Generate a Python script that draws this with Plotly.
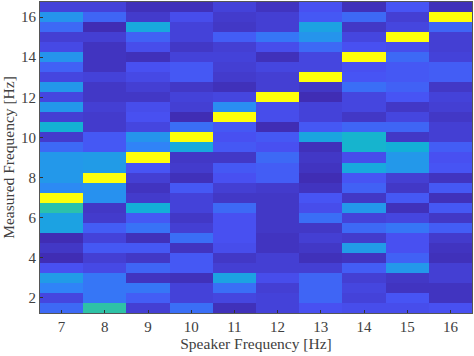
import plotly.graph_objects as go

speaker_hz = [7, 8, 9, 10, 11, 12, 13, 14, 15, 16]
measured_hz = [16.5, 16, 15.5, 15, 14.5, 14, 13.5, 13, 12.5, 12, 11.5, 11, 10.5, 10, 9.5, 9,
               8.5, 8, 7.5, 7, 6.5, 6, 5.5, 5, 4.5, 4, 3.5, 3, 2.5, 2, 1.5]
col_7 = [.08,.29,.18,.07,.10,.29,.16,.09,.30,.09,.30,.07,.38,.06,.18,.30,.30,.30,.26,1,.46,.33,.33,.02,.05,.02,.12,.31,.24,.09,.18]
col_8 = [.08,.17,.02,.07,.04,.04,.04,.08,.05,.05,.07,.06,.06,.14,.14,.31,.31,1,.28,.28,.05,.06,.15,.08,.14,.07,.10,.21,.21,.21,.47]
col_9 = [.03,.06,.35,.16,.11,.03,.12,.10,.07,.05,.11,.12,.09,.29,.24,1,.13,.07,.04,.06,.37,.14,.20,.03,.14,.05,.17,.04,.21,.15,.07]
col_10 = [.03,.11,.08,.08,.05,.08,.14,.14,.05,.08,.07,.02,.19,1,.35,.05,.06,.03,.14,.08,.08,.05,.07,.19,.04,.14,.14,.03,.08,.08,.19]
col_11 = [.08,.06,.05,.15,.07,.08,.07,.06,.03,.09,.27,1,.14,.12,.14,.05,.14,.12,.07,.05,.18,.12,.12,.12,.11,.05,.07,.33,.19,.09,.03]
col_12 = [.04,.07,.07,.21,.11,.03,.09,.07,.07,1,.11,.11,.02,.14,.12,.18,.15,.15,.06,.05,.05,.05,.05,.04,.04,.07,.07,.11,.07,.08,.08]
col_13 = [.12,.14,.33,.29,.18,.09,.09,1,.05,.02,.08,.08,.14,.34,.03,.05,.04,.02,.04,.13,.11,.19,.05,.07,.05,.03,.07,.17,.17,.17,.12]
col_14 = [.03,.18,.05,.09,.12,1,.12,.13,.19,.09,.09,.05,.17,.39,.39,.11,.35,.13,.16,.05,.30,.08,.18,.06,.31,.04,.15,.07,.09,.08,.11]
col_15 = [.13,.07,.09,1,.11,.18,.14,.14,.16,.13,.05,.09,.17,.05,.37,.30,.30,.07,.05,.14,.03,.09,.21,.12,.12,.16,.30,.05,.04,.13,.11]
col_16 = [.03,1,.17,.07,.07,.08,.15,.15,.05,.08,.07,.05,.07,.07,.15,.12,.13,.04,.14,.03,.14,.05,.15,.06,.04,.03,.07,.07,.04,.04,.12]

columns = [col_7, col_8, col_9, col_10, col_11, col_12, col_13, col_14, col_15, col_16]
z = [list(row) for row in zip(*columns)]

colorscale = [
    [0.0, "rgb(62,38,168)"], [0.125, "rgb(72,82,244)"], [0.25, "rgb(46,135,247)"],
    [0.375, "rgb(18,177,214)"], [0.5, "rgb(55,200,151)"], [0.625, "rgb(171,199,57)"],
    [0.75, "rgb(254,195,56)"], [0.875, "rgb(245,228,30)"], [1.0, "rgb(255,255,10)"],
]
text_color = "#404040"

fig = go.Figure(go.Heatmap(x=speaker_hz, y=measured_hz, z=z, zmin=0, zmax=1,
                           colorscale=colorscale, showscale=False, xgap=0, ygap=0))
axis_common = dict(
    automargin=False,
    showgrid=False, zeroline=False, showline=True, linecolor="#555555", linewidth=1,
    mirror=True, ticks="inside", ticklen=3, tickcolor="#333333",
    tickfont=dict(family="Liberation Serif", size=15, color=text_color),
)
fig.update_xaxes(range=[6.5, 16.5], tickvals=speaker_hz,
                 title=dict(text="Speaker Frequency [Hz]", standoff=4,
                            font=dict(family="Liberation Serif", size=15.5, color=text_color)),
                 **axis_common)
fig.update_yaxes(range=[1.25, 16.75], tickvals=[2, 4, 6, 8, 10, 12, 14, 16],
                 title=dict(text="Measured Frequency [Hz]", standoff=6,
                            font=dict(family="Liberation Serif", size=15.5, color=text_color)),
                 **axis_common)
fig.update_layout(width=474, height=356, autosize=False, paper_bgcolor="white", plot_bgcolor="white",
                  margin=dict(l=40, r=2, t=2, b=43))
fig.write_html("out.html", config={"displayModeBar": False},
               post_script="document.body.style.margin='0';")
